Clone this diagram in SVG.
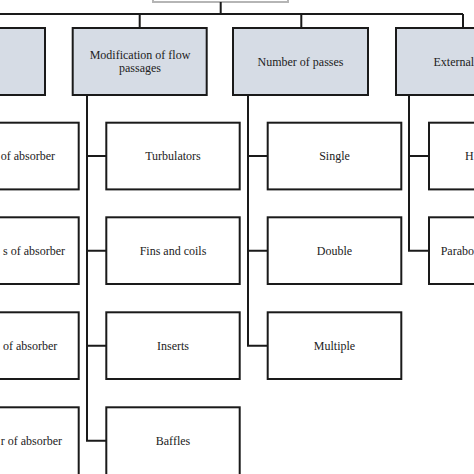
<svg xmlns="http://www.w3.org/2000/svg" width="474" height="474" viewBox="0 0 474 474">
<style>
.cat{fill:#d6dce5;stroke:#1a1a1a;stroke-width:2}
.leaf{fill:#ffffff;stroke:#1a1a1a;stroke-width:2}
.t{font-family:"Liberation Serif","Times New Roman",serif;font-size:12px;fill:#222;text-anchor:middle}
.te{font-family:"Liberation Serif","Times New Roman",serif;font-size:12px;fill:#222;text-anchor:end}
.ts{font-family:"Liberation Serif","Times New Roman",serif;font-size:12px;fill:#222;text-anchor:start}
.c{fill:none;stroke:#1a1a1a;stroke-width:2}
</style>
<rect width="474" height="474" fill="#ffffff"/>
<g id="root"><rect x="153" y="-40" width="135" height="42" fill="#ffffff" stroke="#b5b5b5" stroke-width="2"/></g>
<g id="connectors">
<path class="c" d="M220.7 2V14M0 14H463M139.7 14V28M301.3 14V28M463 14V28"/>
<path class="c" d="M87 95V440.7H106.3M87 156H106.3M87 250.7H106.3M87 345.7H106.3"/>
<path class="c" d="M248 95V345.7H267.7M248 156H267.7M248 250.7H267.7"/>
<path class="c" d="M409 95V250.7H429M409 156H429"/>
</g>
<g id="cat1"><rect class="cat" x="-89" y="28" width="134" height="67"/></g>
<g id="cat2"><rect class="cat" x="72.7" y="28" width="134" height="67"/><text class="t" x="140" y="59">Modification of flow</text><text class="t" x="140" y="72">passages</text></g>
<g id="cat3"><rect class="cat" x="233" y="28" width="135" height="67"/><text class="t" x="300.5" y="65.5">Number of passes</text></g>
<g id="cat4"><rect class="cat" x="396" y="28" width="134" height="67"/><text class="ts" x="433.5" y="65.5">External</text></g>
<g id="l1"><rect class="leaf" x="-54.7" y="122.7" width="133.4" height="66.7"/><text class="te" x="55" y="160">of absorber</text></g>
<g id="l2"><rect class="leaf" x="-54.7" y="217.3" width="133.4" height="66.7"/><text class="te" x="65" y="255">s of absorber</text></g>
<g id="l3"><rect class="leaf" x="-54.7" y="312.3" width="133.4" height="66.7"/><text class="te" x="57.3" y="350">of absorber</text></g>
<g id="l4"><rect class="leaf" x="-54.7" y="407.3" width="133.4" height="80"/><text class="te" x="62" y="445">r of absorber</text></g>
<g id="m1"><rect class="leaf" x="106.3" y="122.7" width="133.4" height="66.7"/><text class="t" x="173" y="160">Turbulators</text></g>
<g id="m2"><rect class="leaf" x="106.3" y="217.3" width="133.4" height="66.7"/><text class="t" x="173" y="255">Fins and coils</text></g>
<g id="m3"><rect class="leaf" x="106.3" y="312.3" width="133.4" height="66.7"/><text class="t" x="173" y="350">Inserts</text></g>
<g id="m4"><rect class="leaf" x="106.3" y="407.3" width="133.4" height="80"/><text class="t" x="173" y="445">Baffles</text></g>
<g id="n1"><rect class="leaf" x="267.7" y="122.7" width="133.6" height="66.7"/><text class="t" x="334.5" y="160">Single</text></g>
<g id="n2"><rect class="leaf" x="267.7" y="217.3" width="133.6" height="66.7"/><text class="t" x="334.5" y="255">Double</text></g>
<g id="n3"><rect class="leaf" x="267.7" y="312.3" width="133.6" height="66.7"/><text class="t" x="334.5" y="350">Multiple</text></g>
<g id="e1"><rect class="leaf" x="429" y="122.7" width="133.4" height="66.7"/><text class="ts" x="465" y="160">H</text></g>
<g id="e2"><rect class="leaf" x="429" y="217.3" width="133.4" height="66.7"/><text class="ts" x="440.7" y="255">Parabo</text></g>
</svg>
